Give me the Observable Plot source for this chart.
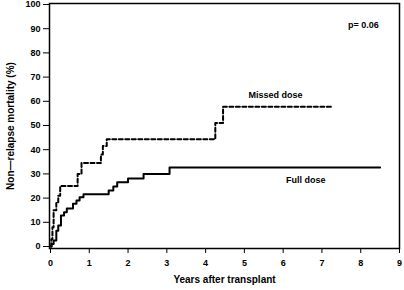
<!DOCTYPE html>
<html>
<head>
<meta charset="utf-8">
<script src="https://cdn.jsdelivr.net/npm/d3@7"></script>
<script src="https://cdn.jsdelivr.net/npm/@observablehq/plot@0.6"></script>
<style>
  html, body { margin: 0; padding: 0; background: white; }
</style>
</head>
<body>
<div id="chart"></div>
<script>
// Data
const fullYears   = [0, 0.03, 0.08, 0.15, 0.2, 0.27, 0.35, 0.42, 0.58, 0.67, 0.75, 0.85, 1.5, 1.62, 1.72, 2.0, 2.4, 3.07, 8.5];
const fullValues  = [0, 1, 2.5, 6.5, 8.7, 12.8, 14.2, 15.7, 17.7, 19, 20.4, 21.6, 23.1, 24.8, 26.5, 28.1, 30, 32.6, 32.6];
const missedYears  = [0, 0.02, 0.05, 0.08, 0.15, 0.2, 0.25, 0.7, 0.8, 1.3, 1.35, 1.45, 4.25, 4.45, 7.25];
const missedValues = [0, 3, 8, 15, 18, 21, 25, 30, 34.5, 38, 41.5, 44.3, 51, 57.7, 57.7];
const xTicks = [0, 1, 2, 3, 4, 5, 6, 7, 8, 9];
const yTicks = [0, 10, 20, 30, 40, 50, 60, 70, 80, 90, 100];
const xTitle = "Years after transplant";
const yTitle = "Non\u2014relapse mortality (%)";
const annotations = [
  {x: 5.8, y: 62.4, text: "Missed dose"},
  {x: 6.58, y: 27.3, text: "Full dose"},
  {x: 8.07, y: 91.3, text: "p= 0.06"}
];

const full = fullYears.map((t, i) => ({t, v: fullValues[i]}));
const missed = missedYears.map((t, i) => ({t, v: missedValues[i]}));

const fig = Plot.plot({
  width: 404,
  height: 290,
  marginLeft: 49,
  marginRight: 5,
  marginTop: 3,
  marginBottom: 42,
  style: {fontFamily: "'Liberation Sans', Arial, sans-serif", fontWeight: "bold", fontSize: "9px", background: "white", color: "black"},
  x: {domain: [0, 9], range: [50, 399]},
  y: {domain: [0, 100], range: [246, 4]},
  marks: [
    Plot.frame({stroke: "black", strokeWidth: 1.5}),
    Plot.axisX({ticks: xTicks, tickSize: 5, tickPadding: 6, label: null, tickFormat: d => d}),
    Plot.axisY({ticks: yTicks, tickSize: 6, tickPadding: 3, label: null, tickFormat: d => d}),
    Plot.line(full, {x: "t", y: "v", curve: "step-after", stroke: "black", strokeWidth: 2}),
    Plot.line(missed, {x: "t", y: "v", curve: "step-after", stroke: "black", strokeWidth: 2, strokeDasharray: "4,2.5"}),
    Plot.text(annotations, {x: "x", y: "y", text: "text", fontSize: 9, fontWeight: "bold"}),
    Plot.text([xTitle], {frameAnchor: "bottom", dy: 34, text: d => d, fontSize: 10, fontWeight: "bold", textAnchor: "middle"}),
    Plot.text([yTitle], {frameAnchor: "left", dx: -39, rotate: -90, text: d => d, fontSize: 10, fontWeight: "bold", textAnchor: "middle"})
  ]
});
document.getElementById("chart").append(fig);
</script>
</body>
</html>
